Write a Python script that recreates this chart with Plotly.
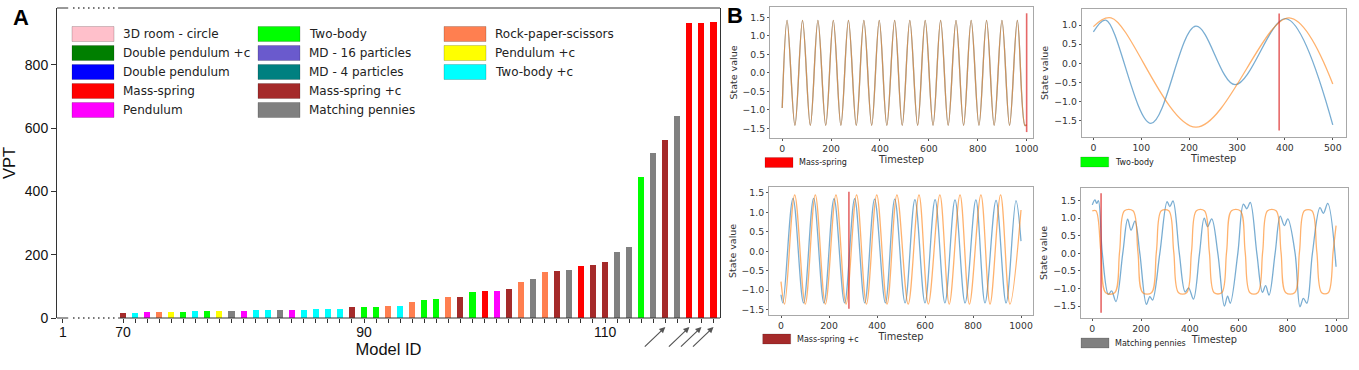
import plotly.graph_objects as go

W, H = 1359, 370

# ---------------- Panel A data ----------------
model_ids = list(range(70, 120))
vpt = [15, 16, 19, 19, 19, 19, 22, 22, 22, 22, 22, 25, 25, 25, 25, 24, 28, 28, 28, 34,
       34, 34, 38, 38, 52, 57, 60, 66, 66, 81, 85, 85, 92, 114, 124, 146, 150, 153, 164, 168,
       178, 210, 223, 445, 521, 564, 640, 933, 933, 936]
systems = [
    "Mass-spring +c", "Two-body +c", "Pendulum", "Rock-paper-scissors", "Pendulum +c",
    "Two-body", "Two-body +c", "Two-body", "Pendulum +c", "Matching pennies",
    "Pendulum", "Two-body +c", "Two-body +c", "Matching pennies", "Pendulum",
    "Two-body +c", "Two-body +c", "Two-body +c", "Two-body +c", "Mass-spring +c",
    "Two-body", "Two-body", "Rock-paper-scissors", "Two-body +c", "Rock-paper-scissors",
    "Two-body", "Two-body", "Rock-paper-scissors", "Mass-spring +c", "Two-body",
    "Mass-spring", "Pendulum", "Mass-spring +c", "Rock-paper-scissors", "Matching pennies",
    "Rock-paper-scissors", "Mass-spring +c", "Matching pennies", "Mass-spring", "Mass-spring +c",
    "Mass-spring +c", "Matching pennies", "Matching pennies", "Two-body", "Matching pennies",
    "Mass-spring +c", "Matching pennies", "Mass-spring", "Mass-spring", "Mass-spring",
]
legend_names = ["3D room - circle", "Double pendulum +c", "Double pendulum", "Mass-spring", "Pendulum",
                "Two-body", "MD - 16 particles", "MD - 4 particles", "Mass-spring +c", "Matching pennies",
                "Rock-paper-scissors", "Pendulum +c", "Two-body +c"]
legend_colors = ["#ffc0cb", "#007f00", "#0000ff", "#ff0000", "#ff00ff",
                 "#00ff00", "#6a5acd", "#008080", "#a52a2a", "#808080",
                 "#ff7f50", "#ffff00", "#00ffff"]
labeled_ids = [70, 90, 110]
first_id_label = "1"
highlighted_ids = [115, 117, 118, 119]
vpt_ticks = [0, 200, 400, 600, 800]

# ---------------- Panel B data ----------------
# Mass-spring (true == predicted)
ms_t = [0, 20, 52, 83, 115, 146, 178, 209, 240, 271, 303, 334, 366, 397, 428, 460, 491,
        522, 554, 585, 617, 648, 679, 711, 742, 773, 805, 836, 867, 899, 930, 962, 993, 1000]
ms_v = [-0.95, 1.42, -1.42, 1.42, -1.42, 1.42, -1.42, 1.42, -1.42, 1.42, -1.42, 1.42, -1.42,
        1.42, -1.42, 1.42, -1.42, 1.42, -1.42, 1.42, -1.42, 1.42, -1.42, 1.42, -1.42, 1.42,
        -1.42, 1.42, -1.42, 1.42, -1.42, 1.42, -1.42, -1.40]
ms_vpt = 1000

# Two-body
tb_true_t = [0, 26, 120, 214, 296, 402, 500]
tb_true_v = [0.82, 1.13, -1.57, 0.97, -0.56, 1.17, -1.61]
tb_pred_t = [0, 37, 214, 409, 500]
tb_pred_v = [0.96, 1.19, -1.67, 1.19, -0.54]
tb_vpt = 388

# Mass-spring +c
msc_true_t = [0, 8, 50, 94, 136, 179, 221, 265, 307, 349, 390, 435, 474, 517, 558, 600, 642,
              683, 725, 767, 812, 850, 896, 938, 979, 1000]
msc_true_v = [-1.12, -1.33, 1.36, -1.33, 1.36, -1.33, 1.35, -1.33, 1.35, -1.33, 1.34, -1.33,
              1.34, -1.33, 1.33, -1.33, 1.33, -1.33, 1.32, -1.33, 1.32, -1.33, 1.31, -1.33,
              1.30, 0.26]
msc_pred_t = [0, 15, 57, 101, 143, 185, 229, 271, 315, 356, 399, 442, 483, 530, 575, 614, 662,
              701, 746, 785, 833, 871, 915, 954, 1000]
msc_pred_v = [-0.78, -1.36, 1.45, -1.36, 1.45, -1.36, 1.45, -1.36, 1.45, -1.36, 1.45, -1.36,
              1.45, -1.36, 1.45, -1.36, 1.45, -1.36, 1.45, -1.36, 1.45, -1.36, 1.45, -1.36, 1.06]
msc_vpt = 283

# Matching pennies
mp_true_t = [0, 11, 18, 25, 41, 66, 79, 97, 125, 145, 159, 175, 195, 222, 236, 247, 277, 307,
             318, 331, 357, 381, 395, 415, 440, 459, 473, 490, 515, 542, 555, 566, 597, 620,
             634, 648, 675, 698, 711, 725, 750, 771, 788, 802, 832, 852, 866, 880, 903, 934,
             948, 966, 1000]
mp_true_v = [1.38, 1.52, 1.42, 1.50, 0.0, -1.17, -1.07, -1.37, 0.0, 0.97, 0.66, 0.92, 0.0,
             -1.45, -1.23, -1.33, 0.0, 1.47, 1.33, 1.49, 0.0, -1.10, -0.98, -1.30, 0.0, 1.00,
             0.76, 0.98, 0.0, -1.50, -1.22, -1.42, 0.0, 1.40, 1.27, 1.45, 0.0, -1.11, -0.92,
             -1.19, 0.0, 1.06, 0.79, 0.98, 0.0, -1.52, -1.28, -1.42, 0.0, 1.30, 1.14, 1.42, -0.38]
mp_pred_t = [0, 15, 35, 55, 92, 112, 132, 167, 187, 207, 243, 263, 283, 314, 334, 354, 387,
             407, 427, 460, 480, 500, 531, 551, 571, 607, 627, 647, 679, 699, 719, 754, 774,
             794, 830, 850, 870, 901, 921, 941, 968, 988, 1000]
mp_pred_v = [1.21, 1.21, 0.05, -1.12, -1.12, 0.05, 1.21, 1.21, 0.05, -1.12, -1.12, 0.05, 1.21,
             1.21, 0.05, -1.12, -1.12, 0.05, 1.21, 1.21, 0.05, -1.12, -1.12, 0.05, 1.21, 1.21,
             0.05, -1.12, -1.12, 0.05, 1.21, 1.21, 0.05, -1.12, -1.12, 0.05, 1.21, 1.21, 0.05,
             -1.12, -1.12, 0.05, 0.79]
mp_vpt = 36

long_t_ticks = [0, 200, 400, 600, 800, 1000]
short_t_ticks = [0, 100, 200, 300, 400, 500]
state_ticks = [-1.5, -1.0, -0.5, 0.0, 0.5, 1.0, 1.5]
state_ticks_tb = [-1.5, -1.0, -0.5, 0.0, 0.5, 1.0]

# ---------------- helpers ----------------
def fx(p):
    return p / W

def fy(p):
    return 1 - p / H

SANS = "Liberation Sans, Arial, sans-serif"
DJV = "DejaVu Sans, sans-serif"
TRUE_C = "rgba(31,119,180,0.6)"
PRED_C = "rgba(255,127,14,0.6)"
VPT_C = "rgba(220,40,40,0.7)"

fig = go.Figure()

# ---------------- Panel A ----------------
color_of = dict(zip(legend_names, legend_colors))
fig.add_trace(go.Bar(
    x=model_ids, y=vpt, width=0.5,
    marker=dict(color=[color_of[s] for s in systems], line=dict(width=0)),
    xaxis="x", yaxis="y", showlegend=False, hoverinfo="x+y"))

x_break = 65
x_range = [64.52, 119.54]

# ---------------- Panel B traces ----------------
panels = [
    ("2", ms_t, ms_v, ms_t, ms_v, ms_vpt, [-1.6, 1.61]),
    ("3", tb_true_t, tb_true_v, tb_pred_t, tb_pred_v, tb_vpt, [-1.76, 1.30]),
    ("4", msc_true_t, msc_true_v, msc_pred_t, msc_pred_v, msc_vpt, [-1.48, 1.53]),
    ("5", mp_true_t, mp_true_v, mp_pred_t, mp_pred_v, mp_vpt, [-1.69, 1.71]),
]
for k, tt, tv, pt, pv, vt, vr in panels:
    fig.add_trace(go.Scatter(x=tt, y=tv, mode="lines", line=dict(color=TRUE_C, width=1.3, shape="spline", smoothing=1),
                             xaxis="x" + k, yaxis="y" + k, showlegend=False))
    fig.add_trace(go.Scatter(x=pt, y=pv, mode="lines", line=dict(color=PRED_C, width=1.3, shape="spline", smoothing=1),
                             xaxis="x" + k, yaxis="y" + k, showlegend=False))
    fig.add_trace(go.Scatter(x=[vt, vt], y=vr, mode="lines", line=dict(color=VPT_C, width=1.6),
                             xaxis="x" + k, yaxis="y" + k, showlegend=False))

# ---------------- Layout axes ----------------
tickvals_a = [x_break] + model_ids
ticktext_a = [first_id_label] + [str(i) if i in labeled_ids else "" for i in model_ids]

layout = dict(
    width=W, height=H, margin=dict(l=0, r=0, t=0, b=0),
    paper_bgcolor="white", plot_bgcolor="white",
    font=dict(family=DJV, color="#222"),
    showlegend=False, bargap=0,
    xaxis=dict(domain=[fx(57), fx(720)], anchor="y", range=x_range,
               tickmode="array", tickvals=tickvals_a, ticktext=ticktext_a,
               ticks="outside", ticklen=4, tickwidth=1, tickcolor="#333", ticklabelstandoff=-3,
               tickfont=dict(family=SANS, size=14, color="#111"),
               showline=False, showgrid=False, zeroline=False, automargin=False,
               title=dict(text="Model ID", font=dict(family=SANS, size=16.5, color="#111"), standoff=2)),
    yaxis=dict(domain=[fy(318), fy(8)], anchor="x", range=[0, 980],
               tickmode="array", tickvals=vpt_ticks,
               ticks="outside", ticklen=5, tickwidth=1, tickcolor="#333",
               tickfont=dict(family=SANS, size=14, color="#111"),
               showline=True, linecolor="#333", linewidth=1, mirror=True,
               showgrid=False, zeroline=False, automargin=False,
               title=dict(text="VPT", font=dict(family=SANS, size=16.5, color="#111"), standoff=5)),
)

b_domains = {
    "2": ([770, 1033], [7, 138], [-50, 1026], [-1.76, 1.78], long_t_ticks, state_ticks),
    "3": ([1081.7, 1345.7], [9, 136.7], [-24.4, 527], [-1.92, 1.42], short_t_ticks, state_ticks_tb),
    "4": ([769, 1033], [186.7, 315], [-50, 1050], [-1.64, 1.66], long_t_ticks, state_ticks),
    "5": ([1080.7, 1348], [188, 318], [-47.6, 1049], [-1.84, 1.86], long_t_ticks, state_ticks),
}
for k, (dx, dy, rx, ry, xt, yt) in b_domains.items():
    layout["xaxis" + k] = dict(domain=[fx(dx[0]), fx(dx[1])], anchor="y" + k, range=rx,
                               tickmode="array", tickvals=xt, ticks="outside", ticklen=2,
                               tickcolor="#555", tickfont=dict(family=DJV, size=9.3, color="#333"),
                               showline=True, mirror=True, linecolor="#a8a8a8", linewidth=1,
                               showgrid=False, zeroline=False, automargin=False,
                               title=dict(text="Timestep", font=dict(family=DJV, size=9.8, color="#333"), standoff=0))
    layout["yaxis" + k] = dict(domain=[fy(dy[1]), fy(dy[0])], anchor="x" + k, range=ry,
                               tickmode="array", tickvals=yt, tickformat=".1f", ticks="outside", ticklen=2,
                               tickcolor="#555", tickfont=dict(family=DJV, size=9.3, color="#333"),
                               showline=True, mirror=True, linecolor="#a8a8a8", linewidth=1,
                               showgrid=False, zeroline=False, automargin=False,
                               title=dict(text="State value", font=dict(family=DJV, size=9.5, color="#333"), standoff=3))

shapes = []
annotations = []

# broken top / bottom spines of panel A
for yv in (0, 1):
    shapes.append(dict(type="line", xref="x", yref="y domain", x0=x_range[0], x1=65.45, y0=yv, y1=yv,
                       line=dict(color="#333", width=1)))
    shapes.append(dict(type="line", xref="x", yref="y domain", x0=65.85, x1=69.6, y0=yv, y1=yv,
                       line=dict(color="#444", width=1.5, dash="1.5px,3.5px")))
    shapes.append(dict(type="line", xref="x", yref="y domain", x0=69.6, x1=x_range[1], y0=yv, y1=yv,
                       line=dict(color="#333", width=1)))

# Panel A legend (3 columns)
col_x = [72, 258, 444]
row_y = [34, 53, 72, 91, 110]
for i, (name, col) in enumerate(zip(legend_names, legend_colors)):
    c, r = divmod(i, 5)
    x0 = col_x[c]
    yc = row_y[r]
    shapes.append(dict(type="rect", xref="paper", yref="paper",
                       x0=fx(x0), x1=fx(x0 + 42), y0=fy(yc + 7.5), y1=fy(yc - 7.5),
                       fillcolor=col, line=dict(color="rgba(0,0,0,0.18)", width=1)))
    annotations.append(dict(xref="paper", yref="paper", x=fx(x0 + 49), y=fy(yc), text=name,
                            showarrow=False, xanchor="left", yanchor="middle",
                            font=dict(family=DJV, size=12, color="#222")))

# arrows under highlighted models
for mid in highlighted_ids:
    annotations.append(dict(xref="x", yref="paper", x=mid, y=fy(327), text="", showarrow=True,
                            ax=-22, ay=21, arrowhead=2, arrowsize=1, arrowwidth=1.2, arrowcolor="#555"))

# Panel B legends
b_legends = [("Mass-spring", 765, 162.5), ("Two-body", 1080.7, 162),
             ("Mass-spring +c", 762.7, 339), ("Matching pennies", 1081, 343)]
for name, x0, yc in b_legends:
    shapes.append(dict(type="rect", xref="paper", yref="paper",
                       x0=fx(x0), x1=fx(x0 + 28), y0=fy(yc + 5), y1=fy(yc - 5),
                       fillcolor=color_of[name], line=dict(color="rgba(0,0,0,0.15)", width=1)))
    annotations.append(dict(xref="paper", yref="paper", x=fx(x0 + 32), y=fy(yc), text=name,
                            showarrow=False, xanchor="left", yanchor="middle",
                            font=dict(family=DJV, size=8, color="#222")))

# Panel letters
annotations.append(dict(xref="paper", yref="paper", x=fx(21.5), y=fy(17.5), text="<b>A</b>", showarrow=False,
                        xanchor="center", yanchor="middle", font=dict(family=SANS, size=22, color="black")))
annotations.append(dict(xref="paper", yref="paper", x=fx(735), y=fy(15), text="<b>B</b>", showarrow=False,
                        xanchor="center", yanchor="middle", font=dict(family=SANS, size=22, color="black")))

layout["shapes"] = shapes
layout["annotations"] = annotations
fig.update_layout(**layout)

fig.write_html("out.html", config={"displayModeBar": False},
               post_script="document.body.style.margin='0';document.body.style.padding='0';")
